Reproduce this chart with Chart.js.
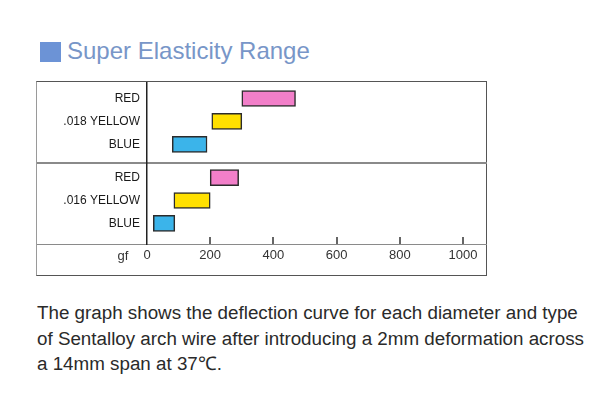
<!DOCTYPE html>
<html>
<head>
<meta charset="utf-8">
<script src="https://cdn.jsdelivr.net/npm/chart.js@4.4.1/dist/chart.umd.min.js"></script>
<style>
    html, body { margin: 0; padding: 0; background: #fff; }
    body { width: 600px; height: 407px; position: relative; overflow: hidden; font-family: "Liberation Sans", Arial, sans-serif; }
    .title { position: absolute; left: 40px; top: 36px; height: 30px; line-height: 30px; font-size: 24px; color: #7896c8; white-space: nowrap; }
    .title .box { display: inline-block; width: 21px; height: 20px; background: #6c93d6; vertical-align: -3px; margin-right: 6px; }
    .frame { position: absolute; left: 36px; top: 81px; width: 449px; height: 193px; border: 1.5px solid #555; border-left-color: #9a9a9a; }
    .hline { position: absolute; left: 37px; width: 450px; height: 1.5px; background: #8a8a8a; }
    .chart-wrap { position: absolute; left: 37px; top: 82px; width: 450px; height: 194px; }
    .caption { position: absolute; left: 37px; top: 300px; width: 563px; font-size: 18.8px; line-height: 25.5px; color: #2a2a2a; white-space: nowrap; }
</style>
</head>
<body>
<div class="title"><span class="box"></span>Super Elasticity Range</div>
<div class="frame"></div>
<div class="hline" style="top:162px"></div>
<div class="hline" style="top:243.5px"></div>
<div class="chart-wrap"><canvas id="rangeChart"></canvas></div>
<div class="caption">The graph shows the deflection curve for each diameter and type<br>of Sentalloy arch wire after introducing a 2mm deformation across<br>a 14mm span at 37&#8451;.</div>

<script>
// === DATA ===
const groups = ['.018', '.016'];
const wires = ['RED', 'YELLOW', 'BLUE'];
const low018 = [300, 205, 80];
const high018 = [470, 300, 190];
const low016 = [200, 85, 20];
const high016 = [290, 200, 88];
const xTicks = [0, 200, 400, 600, 800, 1000];

const WIRE_COLORS = {
    RED: '#f27fc9',
    YELLOW: '#ffe000',
    BLUE: '#3bb4ea'
};

const GROUP_GAP = 0.45;

// rows: one per wire per group, with a small gap between the groups
const rows = [];
[[low018, high018], [low016, high016]].forEach(function(pair, g) {
    wires.forEach(function(w, i) {
        rows.push({
            label: (i === 1 ? groups[g] + ' ' : '') + w,
            pos: g * (wires.length + GROUP_GAP) + i,
            range: [pair[0][i], pair[1][i]],
            color: WIRE_COLORS[w]
        });
    });
});

const axisMarks = {
    id: 'axisMarks',
    afterDraw: function(chart) {
        const ctx = chart.ctx;
        const x = chart.scales.x;
        const y = chart.scales.y;
        const bottom = chart.chartArea.bottom;
        ctx.save();
        ctx.strokeStyle = '#333';
        ctx.lineWidth = 1.5;
        x.ticks.forEach(function(t) {
            if (t.value === 0) return;
            const px = Math.round(x.getPixelForValue(t.value));
            ctx.beginPath();
            ctx.moveTo(px, bottom - 7);
            ctx.lineTo(px, bottom);
            ctx.stroke();
        });
        ctx.fillStyle = '#333';
        ctx.font = '13px "Liberation Sans", Arial, sans-serif';
        ctx.textAlign = 'center';
        ctx.textBaseline = 'middle';
        ctx.fillText('gf', y.right - 24, x.top + 12);
        ctx.restore();
    }
};

new Chart(document.getElementById('rangeChart'), {
    type: 'bar',
    data: {
        datasets: [{
            data: rows.map(r => ({ x: r.range, y: r.pos })),
            backgroundColor: rows.map(r => r.color),
            borderColor: '#2b2b2b',
            borderWidth: 1.5,
            borderSkipped: false,
            barThickness: 16
        }]
    },
    options: {
        indexAxis: 'y',
        responsive: true,
        maintainAspectRatio: false,
        animation: false,
        layout: { padding: { top: 0, right: 24, bottom: 0, left: 0 } },
        plugins: {
            legend: { display: false },
            tooltip: { enabled: false }
        },
        scales: {
            x: {
                type: 'linear',
                min: 0,
                max: 1000,
                offset: false,
                afterBuildTicks: function(scale) {
                    scale.ticks = xTicks.map(v => ({ value: v }));
                },
                afterFit: function(scale) {
                    scale.height = 32;
                    scale.paddingLeft = 0;
                    scale.paddingRight = 0;
                },
                grid: { display: false, drawTicks: false },
                border: { display: false },
                ticks: {
                    padding: 4,
                    color: '#333',
                    font: { family: '"Liberation Sans", Arial, sans-serif', size: 13 },
                    callback: function(value) { return String(value); }
                }
            },
            y: {
                type: 'linear',
                reverse: true,
                offset: false,
                min: -0.72,
                max: 6.35,
                afterBuildTicks: function(scale) {
                    scale.ticks = rows.map(r => ({ value: r.pos }));
                },
                afterFit: function(scale) {
                    scale.width = 110;
                    scale.paddingTop = 0;
                    scale.paddingBottom = 0;
                },
                grid: { display: false, drawTicks: false },
                border: { display: true, color: '#222', width: 1.5 },
                ticks: {
                    padding: 7,
                    color: '#1a1a1a',
                    font: { family: '"Liberation Sans", Arial, sans-serif', size: 12 },
                    callback: function(value, index) {
                        return rows[index] ? rows[index].label : '';
                    }
                }
            }
        }
    },
    plugins: [axisMarks]
});
</script>
</body>
</html>
